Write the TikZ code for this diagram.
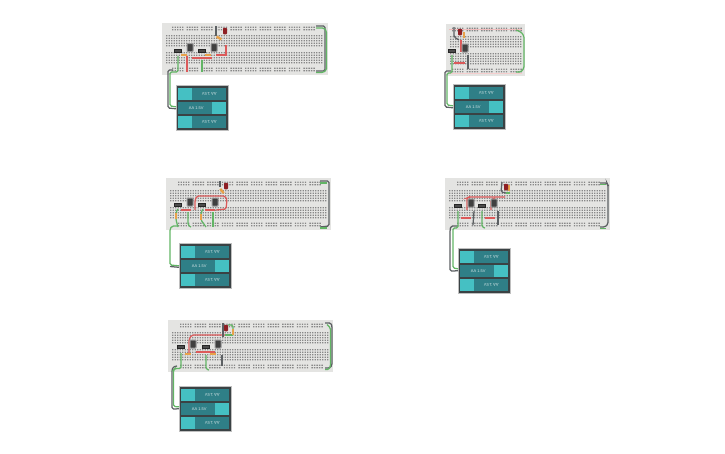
\documentclass[tikz,border=0pt]{standalone}
\usepackage{xcolor}
\usepackage{fontspec}
\setsansfont{Liberation Sans}
\usetikzlibrary{positioning,calc}

\definecolor{boardgrey}{HTML}{E4E4E2}
\definecolor{holegrey}{HTML}{888888}
\definecolor{cellteal}{HTML}{2F7F87}
\definecolor{patchteal}{HTML}{45C0C3}
\definecolor{packdark}{HTML}{3A4244}
\definecolor{wiregreen}{HTML}{62B565}
\definecolor{wirered}{HTML}{DC5A5A}
\definecolor{wiregrey}{HTML}{5C6063}
\definecolor{ledred}{HTML}{8E1F24}
\definecolor{resorange}{HTML}{E8A24A}

\tikzset{
  boardbox/.style={fill=boardgrey,draw=none,inner sep=0pt,anchor=north west},
  packbox/.style={fill=packdark,draw=black!25,line width=.6pt,inner sep=0pt,anchor=north west,minimum width=52pt,minimum height=45pt},
  cellbox/.style={fill=cellteal,draw=none,inner sep=0pt,anchor=north west,minimum width=48pt,minimum height=12.4pt},
  patchbox/.style={fill=patchteal,draw=none,inner sep=0pt,minimum width=14pt,minimum height=12.4pt},
  celltext/.style={inner sep=0pt,text=white!80!cellteal,font=\sffamily\fontsize{4}{4}\selectfont},
  greenwire/.style={draw=wiregreen,line width=1.25pt,rounded corners=1.5pt},
  redwire/.style={draw=wirered,line width=1.25pt,rounded corners=1.5pt},
  greywire/.style={draw=wiregrey,line width=1.25pt,rounded corners=1.5pt},
  transistor/.style={fill=black!75,draw=black!40,line width=1pt,inner sep=0pt,minimum width=6pt,minimum height=8pt,rounded corners=.6pt},
  switchbar/.style={fill=black!70,draw=black!85,line width=.8pt,inner sep=0pt,minimum width=7.5pt,minimum height=2.4pt},
  ledbox/.style={fill=ledred,inner sep=0pt,minimum width=4pt,minimum height=6.5pt,rounded corners=.8pt},
  resistorbox/.style={fill=resorange,inner sep=0pt,minimum width=5.5pt,minimum height=2.4pt}
}

% name, left, top, width, columns, rail groups, rail offset
\newcommand{\breadboard}[7]{
  \node[boardbox,minimum width=#4pt,minimum height=52pt] (#1) at (#2,#3) {};
  \fill[holegrey]
    \foreach \c in {1,...,#5}{
      \foreach \r in {12,14.5,17,19.5,22,29,31.5,34,36.5,39}{
        ({#2+4+2.5*(\c-1)},{#3+\r}) rectangle ++(1.4,1.4)
      }
    }
    \foreach \g in {1,...,#6}{
      \foreach \c in {0,...,4}{
        \foreach \r in {3.5,6,44.5,47}{
          ({#2+#7+14.6*(\g-1)+2.5*\c},{#3+\r}) rectangle ++(1.4,1.4)
        }
      }
    };
}

% name, left, top
\newcommand{\batterypack}[3]{
  \node[packbox] (#1) at (#2,#3) {};
  \node[cellbox] (#1top) at (#2+2,#3+2.8) {};
  \node[cellbox] (#1mid) at (#2+2,#3+16.6) {};
  \node[cellbox] (#1bot) at (#2+2,#3+30.4) {};
  \node[patchbox,anchor=west] (#1ptop) at (#1top.west) {};
  \node[patchbox,anchor=east] (#1pmid) at (#1mid.east) {};
  \node[patchbox,anchor=west] (#1pbot) at (#1bot.west) {};
  \node[celltext,rotate=180] (#1ttop) at ($(#1top.center)+(7,0)$) {AA 1.5V};
  \node[celltext] (#1tmid) at ($(#1mid.center)+(-6,0)$) {AA 1.5V};
  \node[celltext,rotate=180] (#1tbot) at ($(#1bot.center)+(7,0)$) {AA 1.5V};
}

\begin{document}
\begin{tikzpicture}[x=1pt,y=-1pt]
  \useasboundingbox (0,0) rectangle (725,453);

  % top left
  \breadboard{boardA}{162}{23}{166}{63}{10}{10}
  \batterypack{packA}{176}{85}
  \draw[greywire] (316,26) -- (325,26) -- (325,71) -- (316,71);
  \draw[greenwire] (316,28) -- (324,28) -- (326.5,31) -- (326.5,70) -- (323,72.5) -- (316,72.5);
  \draw[greywire] (packA.west) ++(0,1) -- (168,108) -- (168,70) -- (173,70);
  \draw[greenwire] (packA.west) ++(0,-1) -- (170,106) -- (170,72) -- (178,72) -- (178,56);
  \draw[redwire] (187,56) -- (187,72);
  \draw[greenwire] (202,60) -- (202,72);
  \draw[redwire] (192,58) -- (212,58);
  \draw[redwire] (216,55) -- (227,55);
  \draw[redwire] (226,45) -- (226,54);
  \draw[greywire] (216,26) -- (216,36);
  \node[switchbar] (swA1) at (178,51) {};
  \node[switchbar] (swA2) at (202,51) {};
  \node[transistor] (trA1) at (190,47.5) {};
  \node[transistor] (trA2) at (214,47.5) {};
  \node[resistorbox] (resA1) at (184,55) {};
  \node[resistorbox] (resA2) at (208,55) {};
  \node[resistorbox,rotate=-30] (resA3) at (219,38) {};
  \node[ledbox] (ledA) at (225,31) {};

  % top right
  \breadboard{boardB}{446}{24}{79}{29}{5}{6}
  \batterypack{packB}{453}{84}
  \draw[wirered!40,line width=.6pt] (449,29) -- (522,29);
  \draw[wirered!30,line width=.6pt] (449,73) -- (522,73);
  \draw[greywire] (packB.west) ++(0,1) -- (445,107) -- (445,71) -- (451,71);
  \draw[greenwire] (packB.west) ++(0,-1) -- (447,105) -- (447,73) -- (452,73) -- (452,55);
  \draw[greenwire] (516,30) -- (521,32) -- (524,36) -- (524,68) -- (521,72) -- (516,72);
  \draw[redwire] (461,40) -- (461,52);
  \draw[redwire] (454,63) -- (465,63);
  \draw[greywire] (468,55) -- (468,69);
  \draw[greywire] (454,27) -- (454,37) -- (459,40);
  \node[switchbar] (swB1) at (452,51) {};
  \node[transistor] (trB1) at (465,48) {};
  \node[resistorbox,rotate=90] (resB1) at (464,35) {};
  \node[ledbox] (ledB) at (460,32) {};

  % middle left
  \breadboard{boardC}{166}{178}{165}{63}{10}{12}
  \batterypack{packC}{179}{243}
  \draw[greywire] (320,181) -- (329,181) -- (329,226) -- (320,227);
  \draw[greenwire] (320,183) -- (327,183);
  \draw[greenwire] (320,228) -- (327,228);
  \draw[greenwire] (177,226) -- (172,226) -- (170,229) -- (170,265) -- (packC.west);
  \draw[greywire] (packC.west) ++(0,1.5) -- (170,266.5);
  \draw[greenwire] (178,209) -- (176,212) -- (176,220) -- (178,227);
  \draw[greenwire] (188,212) -- (188,225) -- (191,227);
  \draw[greenwire] (203,209) -- (201,213) -- (201,220) -- (206,227);
  \draw[greenwire] (213,212) -- (213,227);
  \draw[redwire] (181,210) -- (191,210);
  \draw[redwire] (205,210) -- (215,210);
  \draw[redwire] (195,210) -- (195,200) -- (197,196) -- (225,196) -- (227,200) -- (226,209) -- (216,210);
  \draw[greywire] (220,181) -- (220,187);
  \node[switchbar] (swC1) at (178,205) {};
  \node[switchbar] (swC2) at (202,205) {};
  \node[transistor] (trC1) at (190,202) {};
  \node[transistor] (trC2) at (215,202) {};
  \node[resistorbox,rotate=90] (resC1) at (176,216) {};
  \node[resistorbox,rotate=90] (resC2) at (201,217) {};
  \node[resistorbox,rotate=-50] (resC3) at (222,191) {};
  \node[ledbox] (ledC) at (226,186) {};

  % middle right
  \breadboard{boardD}{445}{178}{165}{63}{10}{12}
  \batterypack{packD}{458}{248}
  \draw[greywire] (600,183) -- (607,183) -- (608,185) -- (608,224) -- (605,227) -- (600,227);
  \draw[greenwire] (600,184.5) -- (606,184.5);
  \draw[greenwire] (600,228.5) -- (606,228.5);
  \draw[greywire] (457,226) -- (451,226) -- (450,230) -- (450,271) -- (packD.west);
  \draw[greenwire] (packD.west) ++(0,-2) -- (453,268) -- (453,228) -- (458,228) -- (458,211);
  \draw[greenwire] (482,211) -- (482,227) -- (485,228);
  \draw[greywire] (474,211) -- (473,225);
  \draw[greywire] (498,211) -- (498,225);
  \draw[redwire] (467,210) -- (467,198) -- (469,197) -- (505,197);
  \draw[redwire] (491,210) -- (491,200) -- (495,198);
  \draw[redwire] (461,218) -- (471,218);
  \draw[redwire] (485,218) -- (495,218);
  \draw[greywire] (502,182) -- (501,192) -- (506,193);
  \draw[greenwire] (506,193) -- (510,193);
  \node[switchbar] (swD1) at (458,206) {};
  \node[switchbar] (swD2) at (482,206) {};
  \node[transistor] (trD1) at (471,203) {};
  \node[transistor] (trD2) at (494,203) {};
  \node[resistorbox,rotate=90] (resD1) at (509,188) {};
  \node[ledbox] (ledD) at (506,187) {};

  % bottom left
  \breadboard{boardE}{168}{320}{165}{63}{10}{12}
  \batterypack{packE}{179}{386}
  \draw[greywire] (325,323) -- (331,323) -- (332,326) -- (332,365) -- (330,368) -- (325,368);
  \draw[greenwire] (325,369.5) -- (329,369.5) -- (330.5,366) -- (330.5,328) -- (327,324.5);
  \draw[greywire] (177,366) -- (173,367) -- (172,370) -- (172,409) -- (packE.west);
  \draw[greenwire] (packE.west) ++(0,-2) -- (173.5,406.5) -- (173.5,370) -- (175,368.5) -- (181,368.5) -- (181,353);
  \draw[greenwire] (206,355) -- (206,369) -- (209,370);
  \draw[greywire] (222,355) -- (222,366);
  \draw[redwire] (225,335) -- (192,335) -- (189,339) -- (189,353);
  \draw[redwire] (196,352) -- (215,352);
  \draw[greywire] (223,323) -- (223,337);
  \draw[greenwire] (228,325) -- (233,325) -- (233,329);
  \draw[greenwire] (233,335) -- (225,335);
  \node[switchbar] (swE1) at (181,347) {};
  \node[switchbar] (swE2) at (206,347) {};
  \node[transistor] (trE1) at (193,344) {};
  \node[transistor] (trE2) at (218,344) {};
  \node[resistorbox] (resE1) at (188,354) {};
  \node[resistorbox] (resE2) at (213,354) {};
  \node[resistorbox,rotate=90] (resE3) at (233,332) {};
  \node[ledbox] (ledE) at (226,328) {};
\end{tikzpicture}
\end{document}
